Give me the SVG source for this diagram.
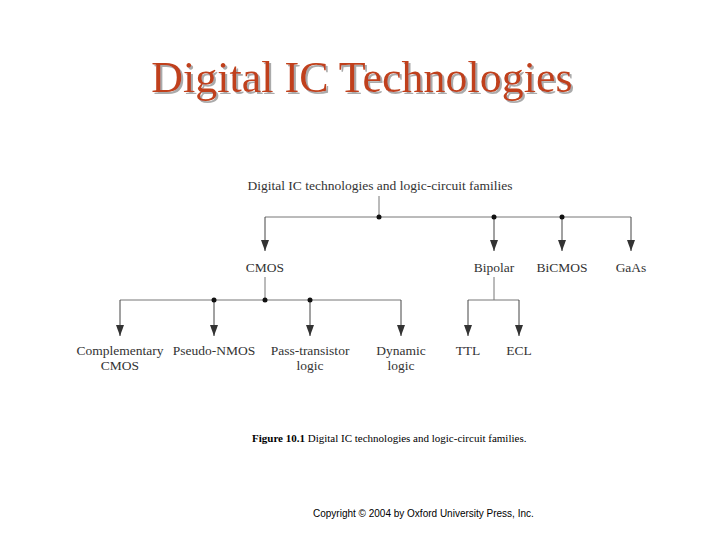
<svg xmlns="http://www.w3.org/2000/svg" width="720" height="540" viewBox="0 0 720 540">
<style>
.lbl{font-family:"Liberation Serif","Times New Roman",serif;font-size:13.5px;fill:#333;text-anchor:middle}
.ln{stroke:#777;stroke-width:1;fill:none}
.dn{stroke:#444;stroke-width:1;fill:none;marker-end:url(#ah)}
.dot{fill:#111}
.title{font-family:"Liberation Serif","Times New Roman",serif;font-size:44px;fill:#c0401a;text-anchor:middle}
</style>
<defs>
<marker id="ah" markerWidth="12" markerHeight="8" refX="11" refY="4" orient="auto" markerUnits="userSpaceOnUse">
<path d="M0,0 L11,4 L0,8 Z" fill="#333"/>
</marker>
<filter id="sh" x="-5%" y="-20%" width="110%" height="140%">
<feDropShadow dx="2" dy="2" stdDeviation="0.6" flood-color="#aaa" flood-opacity="1"/>
</filter>
</defs>
<rect width="720" height="540" fill="#fff"/>
<g id="title">
<text class="title" x="362" y="92" filter="url(#sh)">Digital IC Technologies</text>
</g>
<g id="connectors">
<path class="ln" d="M379,196 V217 M265,217 H631 M265,277 V300 M120,300 H401 M494,277 V300 M468,300 H519"/>
<line class="dn" x1="265" y1="217" x2="265" y2="251"/>
<line class="dn" x1="494" y1="217" x2="494" y2="251"/>
<line class="dn" x1="562" y1="217" x2="562" y2="251"/>
<line class="dn" x1="631" y1="217" x2="631" y2="251"/>
<line class="dn" x1="120" y1="300" x2="120" y2="336"/>
<line class="dn" x1="214" y1="300" x2="214" y2="336"/>
<line class="dn" x1="310" y1="300" x2="310" y2="336"/>
<line class="dn" x1="401" y1="300" x2="401" y2="336"/>
<line class="dn" x1="468" y1="300" x2="468" y2="336"/>
<line class="dn" x1="519" y1="300" x2="519" y2="336"/>
<circle class="dot" cx="379" cy="217" r="2.5"/>
<circle class="dot" cx="494" cy="217" r="2.5"/>
<circle class="dot" cx="562" cy="217" r="2.5"/>
<circle class="dot" cx="265" cy="300" r="2.5"/>
<circle class="dot" cx="214" cy="300" r="2.5"/>
<circle class="dot" cx="310" cy="300" r="2.5"/>
</g>
<g id="root"><text class="lbl" x="380" y="190">Digital IC technologies and logic-circuit families</text></g>
<g id="cmos"><text class="lbl" x="265" y="272">CMOS</text></g>
<g id="bipolar"><text class="lbl" x="494" y="272">Bipolar</text></g>
<g id="bicmos"><text class="lbl" x="562" y="272">BiCMOS</text></g>
<g id="gaas"><text class="lbl" x="631" y="272">GaAs</text></g>
<g id="complementary"><text class="lbl" x="120" y="355">Complementary</text><text class="lbl" x="120" y="370">CMOS</text></g>
<g id="pseudo"><text class="lbl" x="214" y="355">Pseudo-NMOS</text></g>
<g id="pass"><text class="lbl" x="310" y="355">Pass-transistor</text><text class="lbl" x="310" y="370">logic</text></g>
<g id="dynamic"><text class="lbl" x="401" y="355">Dynamic</text><text class="lbl" x="401" y="370">logic</text></g>
<g id="ttl"><text class="lbl" x="468" y="355">TTL</text></g>
<g id="ecl"><text class="lbl" x="519" y="355">ECL</text></g>
<g id="caption"><text x="252" y="442" font-family="'Liberation Serif','Times New Roman',serif" font-size="11" fill="#000"><tspan font-weight="bold">Figure 10.1</tspan>  Digital IC technologies and logic-circuit families.</text></g>
<g id="copyright"><text x="313" y="517" font-family="'Liberation Sans',Arial,sans-serif" font-size="10" fill="#000">Copyright © 2004 by Oxford University Press, Inc.</text></g>
</svg>
